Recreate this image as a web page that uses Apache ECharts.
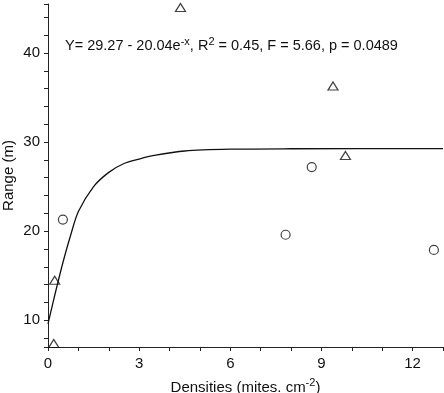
<!DOCTYPE html>
<html>
<head>
<meta charset="utf-8">
<script src="https://cdn.jsdelivr.net/npm/echarts@6/dist/echarts.min.js"></script>
<style>
    html, body { margin: 0; padding: 0; background: #fff; }
    #chart { width: 444px; height: 393px; }
</style>
</head>
<body>
<div id="chart"></div>
<script>
// observed points, triangles and circles
const triangleX = [0.19, 0.22, 4.36, 9.38, 9.79]
const triangleY = [7.4, 14.5, 45.1, 36.3, 28.5]
const circleX = [0.49, 7.82, 8.68, 12.7]
const circleY = [21.3, 19.6, 27.2, 17.9]

// fitted curve
const curveX = [0, 0.25, 0.5, 0.75, 1.0, 1.5, 2.0, 2.5, 3.0, 3.5, 4.5, 6, 8, 13]
const curveY = [9.6, 13.2, 16.6, 19.6, 22.2, 25.0, 26.6, 27.6, 28.1, 28.5, 29.0, 29.2, 29.25, 29.27]

const xTicks = [0, 3, 6, 9, 12]
const yTicks = [10, 20, 30, 40]

const font = "'Liberation Sans', Arial, sans-serif"

const zip = (xs, ys) => xs.map((x, i) => [x, ys[i]])

const chart = echarts.init(document.getElementById("chart"))

const option = {
    animation: false,
    textStyle: { fontFamily: font },
    grid: { left: 48, right: 1, top: 4, bottom: 46, containLabel: false, outerBoundsMode: "none" },
    xAxis: {
        type: "value",
        min: 0,
        max: 13,
        interval: 3,
        splitLine: { show: false },
        axisLine: { lineStyle: { color: "#222", width: 1 } },
        axisTick: { inside: false, length: 4, lineStyle: { color: "#222" } },
        minorTick: { show: true, splitNumber: 3, length: 4, lineStyle: { color: "#222" } },
        axisLabel: {
            color: "#111",
            fontSize: 15,
            margin: 9,
            showMaxLabel: false,
            formatter: (v) => xTicks.includes(v) ? String(v) : "",
        },
        name: "{a|Densities (mites. cm}{s|-2}{a|)}",
        nameLocation: "middle",
        nameGap: 30,
        nameMoveOverlap: false,
        nameTextStyle: {
            rich: {
                a: { fontSize: 15, color: "#111", fontFamily: font, verticalAlign: "bottom", lineHeight: 18 },
                s: { fontSize: 11, color: "#111", fontFamily: font, verticalAlign: "top", lineHeight: 18 },
            },
        },
    },
    yAxis: {
        type: "value",
        min: 7,
        max: 45.5,
        splitNumber: 4,
        splitLine: { show: false },
        axisLine: { lineStyle: { color: "#222", width: 1 } },
        axisTick: { inside: false, length: 4, lineStyle: { color: "#222" } },
        minorTick: { show: true, splitNumber: 5, length: 4, lineStyle: { color: "#222" } },
        axisLabel: {
            color: "#111",
            fontSize: 15,
            margin: 8,
            showMinLabel: false,
            showMaxLabel: false,
            formatter: (v) => yTicks.includes(v) ? String(v) : "",
        },
        name: "Range (m)",
        nameLocation: "middle",
        nameGap: 32,
        nameMoveOverlap: false,
        nameTextStyle: { fontSize: 15, color: "#111" },
    },
    graphic: [{
        type: "text",
        left: 65,
        top: 36,
        style: {
            text: "{a|Y= 29.27 - 20.04e}{s|-x}{a|, R}{s|2}{a| = 0.45, F = 5.66, p = 0.0489}",
            rich: {
                a: { fontSize: 14.5, fill: "#111", fontFamily: font, verticalAlign: "bottom", lineHeight: 17 },
                s: { fontSize: 11, fill: "#111", fontFamily: font, verticalAlign: "top", lineHeight: 17 },
            },
        },
    }],
    series: [
        {
            name: "fit",
            type: "line",
            data: zip(curveX, curveY),
            smooth: 0.3,
            showSymbol: false,
            lineStyle: { color: "#111", width: 1.3 },
            z: 1,
        },
        {
            name: "triangles",
            type: "scatter",
            data: zip(triangleX, triangleY),
            symbol: "triangle",
            symbolSize: [10, 8],
            itemStyle: { color: "transparent", borderColor: "#111", borderWidth: 1.2 },
            clip: false,
            z: 3,
        },
        {
            name: "circles",
            type: "scatter",
            data: zip(circleX, circleY),
            symbol: "circle",
            symbolSize: 9,
            itemStyle: { color: "#fff", borderColor: "#111", borderWidth: 1.2 },
            clip: false,
            z: 3,
        },
    ],
}

chart.setOption(option)
</script>
</body>
</html>
